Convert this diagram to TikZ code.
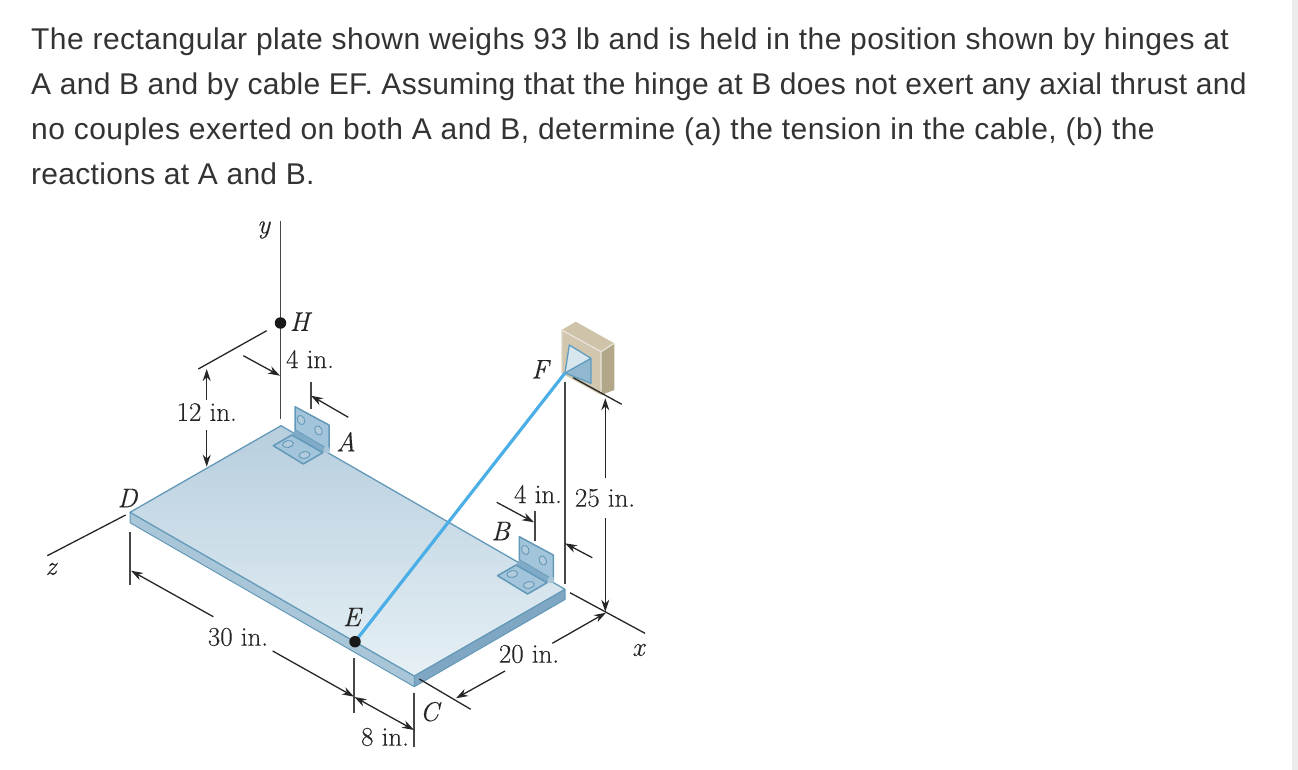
\documentclass[tikz,border=0pt]{standalone}
\usepackage{fontspec}
\setmainfont{Latin Modern Roman}[FakeBold=0.25]
\newfontfamily\qfont{Liberation Sans}
\usetikzlibrary{arrows.meta}
\definecolor{ink}{HTML}{262626}
\definecolor{qink}{HTML}{333335}
\definecolor{edgeblue}{HTML}{6399B8}
\definecolor{sidelight}{HTML}{A9C6D9}
\definecolor{sidedark}{HTML}{7FA6C2}
\definecolor{platetop}{HTML}{B7CEDE}
\definecolor{platebot}{HTML}{E6F0F5}
\definecolor{hingeface}{HTML}{A3C5DB}
\definecolor{hingedark}{HTML}{7FAAC8}
\definecolor{cable}{HTML}{4BAEE6}
\definecolor{wallfront}{HTML}{D2C7AE}
\definecolor{wallside}{HTML}{B3A78A}
\definecolor{walltop}{HTML}{CFC4AA}
\tikzset{
  qline/.style={anchor=base west,inner sep=0pt,font=\qfont\fontsize{30}{30}\selectfont,text=qink},
  lab/.style={inner sep=0pt,font=\fontsize{27}{27}\selectfont,text=ink},
  dimline/.style={draw=ink,line width=1.3pt},
  axisline/.style={draw=ink!85,line width=1.7pt},
  dimarrow/.style={draw=ink,line width=1.3pt,-{Stealth[length=12pt,width=8pt]}},
  dimboth/.style={draw=ink,line width=1.3pt,{Stealth[length=12pt,width=8pt]}-{Stealth[length=12pt,width=8pt]}},
  hingepart/.style={draw=edgeblue,line width=1.5pt,line join=round},
  hole/.style={draw=edgeblue,fill=hingedark!60,line width=.9pt},
  dot/.style={circle,fill=black!90,inner sep=0pt,minimum size=11.5pt},
}
\newcommand{\hingeshape}{%
  \fill[hingeface,hingepart] (295,406.7) -- (329,425) -- (329,450) -- (295,430) -- cycle;
  \fill[hingedark] (291.7,435) -- (295,430) -- (329,450) -- (322.7,452.7) -- cycle;
  \fill[hingeface,hingepart] (273.3,445.7) -- (291.7,435) -- (322.7,452.7) -- (303.3,464) -- cycle;
  \fill[sidelight] (326.7,450) circle (3.4pt);
  \draw[hole] (301,420) ellipse [x radius=3.5,y radius=4.8,rotate=25];
  \draw[hole] (318.5,430.5) ellipse [x radius=3.5,y radius=4.8,rotate=25];
  \draw[hole] (288,444) ellipse [x radius=5.5,y radius=3.4,rotate=10];
  \draw[hole] (304.5,455) ellipse [x radius=5.5,y radius=3.4,rotate=10];
}
\begin{document}
\begin{tikzpicture}[x=1pt,y=-1pt]
\useasboundingbox (0,0) rectangle (1298,770);
\fill[black!8] (1292,0) rectangle (1298,770);
% question
\node[qline] (q1) at (31,49.7) {\addfontfeature{LetterSpace=1.53}The rectangular plate shown weighs 93 lb and is held in the position shown by hinges at};
\node[qline] (q2) at (31,94.7) {\addfontfeature{LetterSpace=0.95}A and B and by cable EF. Assuming that the hinge at B does not exert any axial thrust and};
\node[qline] (q3) at (31,139.7) {\addfontfeature{LetterSpace=1.58}no couples exerted on both A and B, determine (a) the tension in the cable, (b) the};
\node[qline] (q4) at (31,184.7) {\addfontfeature{LetterSpace=1.0}reactions at A and B.};
% named points
\coordinate (T) at (281,425.7);
\coordinate (D) at (130,512.3);
\coordinate (R) at (565,589.3);
\coordinate (Ctop) at (414.3,676);
\coordinate (Dlow) at (130,522.7);
\coordinate (Clow) at (414.3,686.7);
\coordinate (Rlow) at (565,599.5);
\coordinate (F) at (565,373);
\coordinate (E) at (355,641.7);
% plate
\shade[top color=platetop,bottom color=platebot] (T) -- (R) -- (Ctop) -- (D) -- cycle;
\fill[sidelight] (D) -- (Ctop) -- (Clow) -- (Dlow) -- cycle;
\fill[sidedark] (Ctop) -- (R) -- (Rlow) -- (Clow) -- cycle;
\draw[edgeblue,line width=1.3pt,line join=round] (D) -- (T) -- (R) -- (Ctop) -- cycle;
\draw[edgeblue,line width=1pt,line join=round] (D) -- (Dlow) -- (Clow) -- (Rlow) -- (R) (Ctop) -- (Clow);
% hinges
\hingeshape
\begin{scope}[shift={(224.3,130)}]\hingeshape\end{scope}
% wall block
\fill[walltop] (561.7,330) -- (575.7,321.7) -- (614.3,343.3) -- (601,351.7) -- cycle;
\fill[wallside] (601,351.7) -- (614.3,343.3) -- (614.3,390) -- (601,395) -- cycle;
\fill[wallfront] (561.7,330) -- (601,351.7) -- (601,395) -- (561.7,373.3) -- cycle;
\draw[white!70!wallside,line width=1.2pt] (561.7,373.3) -- (561.7,330) -- (601,351.7) -- (614.3,343.3) (601,351.7) -- (601,395);
\fill[platebot!70!platetop] (F) -- (569.3,345) -- (591,358.3) -- cycle;
\fill[hingedark!85] (F) -- (591,358.3) -- (591,383.3) -- cycle;
\draw[edgeblue!80!cable,line width=1.3pt,line join=round] (F) -- (569.3,345) -- (591,358.3) -- (591,383.3) -- cycle (F) -- (591,358.3);
% cable
\draw[cable,line width=3.2pt] (E) -- (F);
\node[dot] (Edot) at (E) {};
% axes
\coordinate (ytop) at (280.5,221); \coordinate (ybot) at (280.5,419);
\draw[axisline] (ytop) -- (ybot);
\node[dot] (Hdot) at (280.5,323) {};
\coordinate (z1) at (47.3,555.7); \coordinate (z2) at (125.7,515);
\draw[dimline] (z1) -- (z2);
\coordinate (x1) at (570,592.7); \coordinate (x2) at (645,633.3);
\draw[dimline] (x1) -- (x2);
% dimension lines near H and A
\coordinate (h1) at (266.7,330.7); \coordinate (h2) at (198.3,369);
\draw[dimline] (h1) -- (h2);
\coordinate (h3) at (243.3,355.7); \coordinate (h4) at (280,375.7);
\draw[dimarrow] (h3) -- (h4);
\coordinate (a1) at (310.7,381.7); \coordinate (a2) at (310.7,409);
\draw[axisline] (a1) -- (a2);
\coordinate (a3) at (348.3,417.3); \coordinate (a4) at (311,395.7);
\draw[dimarrow] (a3) -- (a4);
\coordinate (t1) at (206.7,400); \coordinate (t2) at (206.7,369);
\draw[dimarrow] (t1) -- (t2);
\coordinate (t3) at (206.7,430); \coordinate (t4) at (206.7,466.7);
\draw[dimarrow] (t3) -- (t4);
% 30 in
\coordinate (d1) at (130.3,532.3); \coordinate (d2) at (130.3,585);
\draw[axisline] (d1) -- (d2);
\coordinate (d3) at (213.3,616.7); \coordinate (d4) at (131,570.7);
\draw[dimarrow] (d3) -- (d4);
\coordinate (e1) at (272.7,651); \coordinate (e2) at (354,696.7);
\draw[dimarrow] (e1) -- (e2);
\coordinate (e3) at (354,658); \coordinate (e4) at (354,713);
\draw[axisline] (e3) -- (e4);
\coordinate (c1) at (414.3,692.7); \coordinate (c2) at (414.3,747.3);
\draw[axisline] (c1) -- (c2);
\coordinate (c3) at (354.5,697); \coordinate (c4) at (414,730);
\draw[dimboth] (c3) -- (c4);
% 20 in
\coordinate (f1) at (419.3,679); \coordinate (f2) at (470.7,709.3);
\draw[dimline] (f1) -- (f2);
\coordinate (f3) at (505,671); \coordinate (f4) at (456,698.3);
\draw[dimarrow] (f3) -- (f4);
\coordinate (f5) at (552.3,643.3); \coordinate (f6) at (606,612.7);
\draw[dimarrow] (f5) -- (f6);
% 25 in
\coordinate (g1) at (605.3,477.7); \coordinate (g2) at (605.3,398.3);
\draw[dimarrow] (g1) -- (g2);
\coordinate (g3) at (605.3,518.3); \coordinate (g4) at (605.3,611.7);
\draw[dimarrow] (g3) -- (g4);
\coordinate (g5) at (564.7,381.7); \coordinate (g6) at (564.7,584);
\draw[axisline] (g5) -- (g6);
\coordinate (g7) at (592.3,557.7); \coordinate (g8) at (565,543.3);
\draw[dimarrow] (g7) -- (g8);
\coordinate (g9) at (573.3,377.7); \coordinate (g10) at (621.7,404.3);
\draw[dimline] (g9) -- (g10);
\coordinate (b1) at (496.7,502.3); \coordinate (b2) at (534,522.3);
\draw[dimarrow] (b1) -- (b2);
\coordinate (b3) at (535,511); \coordinate (b4) at (535,540.7);
\draw[axisline] (b3) -- (b4);
% labels
\node[lab] (ly) at (264,230) {\textit{y}};
\node[lab] (lH) at (301,321.7) {\textit{H}};
\node[lab] (l4a) at (310,359) {4 in.};
\node[lab] (l12) at (206.7,412) {12 in.};
\node[lab] (lA) at (346,441.7) {\textit{A}};
\node[lab] (lD) at (127.7,498) {\textit{D}};
\node[lab] (lz) at (51.7,569) {\textit{z}};
\node[lab] (l30) at (238,637) {30 in.};
\node[lab] (lE) at (352.7,617) {\textit{E}};
\node[lab] (lC) at (430.7,711.7) {\textit{C}};
\node[lab] (l8) at (385,737) {8 in.};
\node[lab] (l20) at (529,654) {20 in.};
\node[lab] (lx) at (639,650) {\textit{x}};
\node[lab] (l25) at (605,498) {25 in.};
\node[lab] (l4b) at (538,494) {4 in.};
\node[lab] (lB) at (501,531) {\textit{B}};
\node[lab] (lF) at (541,369.3) {\textit{F}};
\end{tikzpicture}
\end{document}
